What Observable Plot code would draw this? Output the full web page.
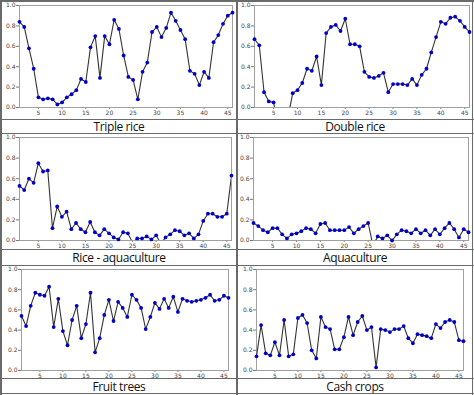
<!DOCTYPE html>
<html>
<head>
<meta charset="utf-8">
<script src="https://cdn.jsdelivr.net/npm/d3@7"></script>
<script src="https://cdn.jsdelivr.net/npm/@observablehq/plot@0.6"></script>
<style>
  html, body { margin: 0; padding: 0; background: #fff; }
  #wrap { position: relative; width: 474px; height: 395px; overflow: hidden; background: #fff; }
  .panel { position: absolute; opacity: 0.999; }
  .title { position: absolute; font-family: "Open Sans", sans-serif; font-size: 12px; color: #111; text-align: center; white-space: nowrap; transform: translate(-50%, -50%); letter-spacing: -0.4px; }
  .hl { position: absolute; height: 1.5px; background: #6a6a6a; }
  .vl { position: absolute; width: 1.5px; background: #6a6a6a; }
</style>
</head>
<body>
<div id="wrap"></div>
<script>
const years = d3.range(1, 47);
const xTicks = [5, 10, 15, 20, 25, 30, 35, 40, 45];
const yTicks = [0, 0.2, 0.4, 0.6, 0.8, 1.0];

const titles = ["Triple rice", "Double rice", "Rice - aquaculture", "Aquaculture", "Fruit trees", "Cash crops"];

const tripleRice = [0.84,0.79,0.58,0.38,0.10,0.08,0.09,0.08,0.03,0.05,0.10,0.13,0.17,0.28,0.25,0.59,0.70,0.29,0.70,0.62,0.86,0.77,0.51,0.30,0.27,0.08,0.35,0.44,0.74,0.79,0.69,0.78,0.93,0.85,0.76,0.67,0.36,0.33,0.22,0.35,0.29,0.64,0.71,0.82,0.90,0.93];
const doubleRice = [0.67,0.61,0.15,0.06,0.05,-0.22,-0.25,-0.10,0.14,0.17,0.24,0.38,0.36,0.50,0.22,0.73,0.79,0.81,0.75,0.87,0.62,0.62,0.60,0.35,0.30,0.29,0.31,0.34,0.15,0.23,0.23,0.23,0.22,0.28,0.22,0.32,0.38,0.54,0.69,0.84,0.82,0.88,0.89,0.85,0.79,0.74];
const riceAquaculture = [0.53,0.49,0.60,0.56,0.75,0.67,0.68,0.12,0.33,0.23,0.28,0.11,0.17,0.11,0.08,0.18,0.08,0.05,0.11,0.07,0.03,0.01,0.08,0.07,-0.02,0.02,0.02,0.04,0.01,0.05,-0.03,0.03,0.06,0.10,0.09,0.05,0.07,0.02,0.06,0.19,0.26,0.26,0.23,0.23,0.26,0.63];
const aquaculture = [0.17,0.14,0.10,0.08,0.12,0.12,0.06,0.02,0.06,0.07,0.09,0.12,0.11,0.07,0.16,0.17,0.10,0.10,0.10,0.10,0.13,0.07,0.11,0.14,0.17,-0.05,0.04,0.02,0.05,0.00,0.06,0.10,0.09,0.07,0.11,0.07,0.10,0.05,0.11,0.06,0.12,0.17,0.11,0.03,0.11,0.08];
const fruitTrees = [0.54,0.44,0.64,0.77,0.75,0.74,0.83,0.43,0.71,0.39,0.25,0.50,0.64,0.32,0.46,0.77,0.18,0.32,0.55,0.70,0.49,0.68,0.62,0.53,0.75,0.70,0.62,0.41,0.53,0.67,0.61,0.71,0.62,0.73,0.58,0.71,0.69,0.68,0.69,0.70,0.72,0.75,0.69,0.70,0.74,0.72];
const cashCrops = [0.14,0.45,0.17,0.15,0.28,0.15,0.50,0.14,0.16,0.52,0.55,0.47,0.20,0.12,0.53,0.43,0.41,0.21,0.21,0.33,0.53,0.35,0.48,0.54,0.40,0.43,0.03,0.41,0.40,0.38,0.41,0.41,0.44,0.32,0.27,0.36,0.35,0.34,0.32,0.46,0.42,0.48,0.50,0.48,0.30,0.29];

const series = [tripleRice, doubleRice, riceAquaculture, aquaculture, fruitTrees, cashCrops];

// layout per panel: [left, top, width, height, mL, mR, mT, mB]
const layout = [
  [0,   0,   236, 118, 19, 4, 5, 11],
  [237, 0,   235, 118, 17, 3, 5, 11],
  [0,   133, 236, 116, 19, 5, 4, 9],
  [237, 133, 235, 116, 16, 4, 4, 9],
  [0,   265, 236, 113, 21, 8, 4, 8],
  [237, 265, 235, 113, 19, 9, 4, 8]
];
const titlePos = [
  [119, 126], [355, 126],
  [119, 257], [355, 257],
  [119, 386], [355, 386]
];

const wrap = document.getElementById("wrap");

series.forEach((vals, i) => {
  const data = years.map((yr, j) => ({year: yr, value: vals[j]}));
  const [left, top, w, h, mL, mR, mT, mB] = layout[i];
  const chart = Plot.plot({
    width: w, height: h,
    marginLeft: mL, marginRight: mR, marginTop: mT, marginBottom: mB,
    style: {fontFamily: "DejaVu Sans", fontSize: "6px", color: "#555", background: "#fff", overflow: "visible"},
    x: {domain: [1, 46], label: null},
    y: {domain: [0, 1], label: null},
    marks: [
      Plot.axisX({ticks: xTicks, tickSize: 2, tickPadding: 1, fontSize: 6, label: null, tickFormat: d => d, stroke: "#777", fill: "#444"}),
      Plot.axisY({ticks: yTicks, tickSize: 3, tickPadding: 1, fontSize: 6, label: null, tickFormat: d3.format(".1f"), stroke: "#777", fill: "#444"}),
      Plot.frame({stroke: "#a0a0a0", strokeWidth: 1}),
      Plot.line(data, {x: "year", y: "value", stroke: "#333", strokeWidth: 1.1, clip: true}),
      Plot.dot(data, {x: "year", y: "value", r: 1.9, fill: "#0000c8", stroke: "none", filter: d => d.value >= -0.005})
    ]
  });
  chart.classList.add("panel");
  chart.style.left = left + "px";
  chart.style.top = top + "px";
  wrap.appendChild(chart);

  const t = document.createElement("div");
  t.className = "title";
  t.textContent = titles[i];
  t.style.left = titlePos[i][0] + "px";
  t.style.top = titlePos[i][1] + "px";
  wrap.appendChild(t);
});

// separator lines
function hline(x, y, w) { const d = document.createElement("div"); d.className = "hl"; d.style.left = x + "px"; d.style.top = y + "px"; d.style.width = w + "px"; wrap.appendChild(d); }
function vline(x, y, h) { const d = document.createElement("div"); d.className = "vl"; d.style.left = x + "px"; d.style.top = y + "px"; d.style.height = h + "px"; wrap.appendChild(d); }
[0, 118.5, 132.5, 248.5, 264.5, 377.5, 392.5].forEach(y => hline(0, y, 474));
vline(0, 0, 395);
vline(236, 0, 395);
vline(471.5, 0, 395);
</script>
</body>
</html>
